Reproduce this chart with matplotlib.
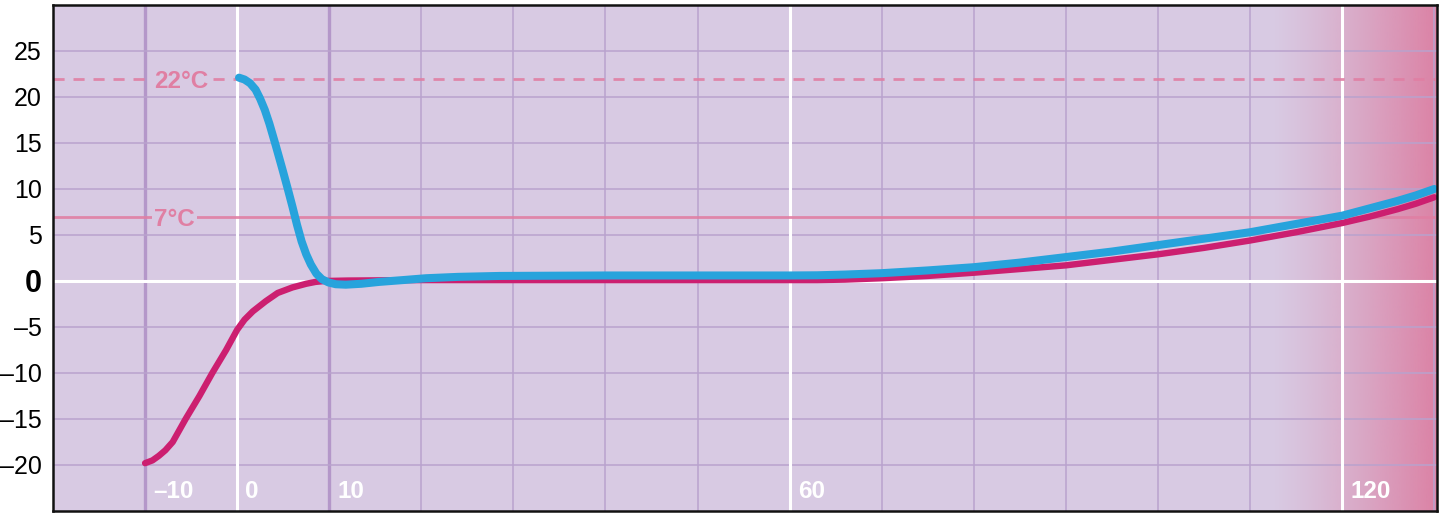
import numpy as np
import matplotlib
matplotlib.use("Agg")
import matplotlib.pyplot as plt
from matplotlib.colors import to_rgb

plt.rcParams["font.family"] = ["Liberation Sans", "DejaVu Sans"]

# --- datos
x_rosa = [-10, -9.2, -8.5, -7.8, -7.0, -5.6, -4.1, -2.7, -1.2, 0, 0.8, 1.7, 3.1, 4.4,
          6, 7.5, 8.5, 9.5, 12, 20, 30, 40, 50, 60, 63, 66, 70, 75, 80, 85, 90, 95,
          100, 105, 110, 115, 120, 123, 126, 128, 130]
y_rosa = [-19.8, -19.5, -19.0, -18.4, -17.5, -15.0, -12.5, -10.0, -7.5, -5.3, -4.2, -3.3, -2.2, -1.3,
          -0.7, -0.3, -0.1, 0, 0.05, 0.1, 0.1, 0.1, 0.1, 0.1, 0.1, 0.15, 0.3, 0.55, 0.9, 1.3, 1.7, 2.3,
          2.9, 3.6, 4.4, 5.3, 6.3, 7.0, 7.8, 8.4, 9.1]

x_azul = [0.2, 0.8, 1.4, 2.0, 2.5, 3.0, 3.5, 4.2, 4.9, 5.5, 6.0, 6.5, 7.0, 7.5, 8.0, 8.6, 9.2,
          9.9, 10.7, 11.8, 13.5, 15.4, 18, 20.5, 24, 28.5, 40, 50, 60, 63, 66, 70, 75, 80,
          85, 90, 95, 100, 105, 110, 115, 120, 123, 126, 128, 130]
y_azul = [22.1, 21.9, 21.5, 20.8, 19.8, 18.6, 17.1, 14.7, 12.2, 10, 8.1, 6.1, 4.3, 2.9, 1.8, 0.8, 0.2,
          -0.15, -0.35, -0.4, -0.3, -0.1, 0.1, 0.3, 0.45, 0.55, 0.6, 0.6, 0.6, 0.62, 0.7, 0.85, 1.15, 1.5,
          2.0, 2.6, 3.2, 3.9, 4.6, 5.3, 6.2, 7.1, 7.9, 8.7, 9.3, 10]

ref_temps = [22, 7]
ref_labels = ["22°C", "7°C"]
y_ticks = [25, 20, 15, 10, 5, 0, -5, -10, -15, -20]
x_marcas = [-10, 0, 10, 60, 120]

BG = "#d8cae3"
GRID = "#b9a2cd"
PINK = "#e07fa3"

fig = plt.figure(figsize=(14.4, 5.16), dpi=100)
ax = fig.add_axes([53 / 1440, 1 - 511 / 516, 1384 / 1440, 506 / 516])
ax.set_xlim(-20, 130.3)
ax.set_ylim(-25, 30)
ax.set_facecolor(BG)

# degradado rosa a la derecha
n = 256
alpha = np.linspace(0, 1, n) ** 1.2 * 0.9
rgba = np.zeros((1, n, 4))
rgba[..., :3] = to_rgb("#dc7a9e")
rgba[..., 3] = alpha
ax.imshow(rgba, extent=[112.5, 130.3, -25, 30], aspect="auto", zorder=0.5, interpolation="bilinear")

# rejilla
for gx in range(-10, 131, 10):
    if gx in (0, 60, 120):
        ax.axvline(gx, color="white", lw=2.2, zorder=1.2)
    elif gx in (-10, 10):
        ax.axvline(gx, color="#b497c9", lw=2.4, zorder=1)
    else:
        ax.axvline(gx, color=GRID, lw=1.1, zorder=1)
for gy in range(-20, 30, 5):
    if gy == 0:
        ax.axhline(gy, color="white", lw=2.2, zorder=1.2)
    else:
        ax.axhline(gy, color=GRID, lw=1.1, zorder=1)

# lineas de referencia
ax.axhline(ref_temps[0], color=PINK, lw=2, ls=(0, (4, 3.2)), alpha=0.9, zorder=1.5)
ax.axhline(ref_temps[1], color=PINK, lw=2, alpha=0.9, zorder=1.5)
for t, lab in zip(ref_temps, ref_labels):
    ax.text(-9.0, t - 0.3, lab, color=PINK, fontsize=17.5, fontweight="bold", va="center", ha="left",
            bbox=dict(facecolor=BG, edgecolor="none", pad=1.5), zorder=1.6)

# curvas
ax.plot(x_rosa, y_rosa, color="#cc1f70", lw=4.6, solid_capstyle="round", solid_joinstyle="round", zorder=3)
ax.plot(x_azul, y_azul, color="#27a3dc", lw=5.8, solid_capstyle="round", solid_joinstyle="round", zorder=4)

# etiquetas eje x dentro del grafico
for xm in x_marcas:
    lab = f"–{abs(xm)}" if xm < 0 else str(xm)
    ax.text(xm + 0.9, -22.9, lab, color="white", fontsize=17.5, fontweight="bold", va="center", ha="left", zorder=5)

ax.set_xticks([])
ax.set_yticks(y_ticks)
ax.set_yticklabels([f"–{abs(v)}" if v < 0 else str(v) for v in y_ticks], fontsize=18)
for t in ax.get_yticklabels():
    if t.get_text() == "0":
        t.set_fontweight("bold")
        t.set_fontsize(22)
ax.tick_params(axis="y", length=0, pad=8)

for s in ax.spines.values():
    s.set_linewidth(1.8)
    s.set_color("#111111")
    s.set_zorder(6)

fig.savefig("out.png", dpi=100)
